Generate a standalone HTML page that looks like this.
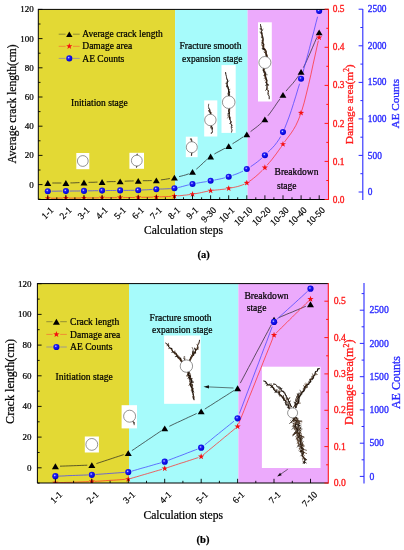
<!DOCTYPE html>
<html><head><meta charset="utf-8"><title>Crack evolution</title>
<style>html,body{margin:0;padding:0;background:#fff}svg{display:block}text{font-family:"Liberation Serif",serif}</style>
</head><body>
<svg width="404" height="550" viewBox="0 0 404 550">
<defs><radialGradient id="bg" cx="0.40" cy="0.38" r="0.64"><stop offset="0" stop-color="#f0f0ff"/><stop offset="0.12" stop-color="#8a8aff"/><stop offset="0.32" stop-color="#1c1cf6"/><stop offset="1" stop-color="#0000cc"/></radialGradient></defs>
<rect width="404" height="550" fill="#fff"/>
<clipPath id="ca"><rect x="38.3" y="9.4" width="290.2" height="190.1"/></clipPath>
<rect x="38.3" y="9.4" width="136.8" height="190.1" fill="#e3d934"/>
<rect x="175.1" y="9.4" width="72.5" height="190.1" fill="#a6fbfb"/>
<rect x="247.6" y="9.4" width="80.9" height="190.1" fill="#ecaafc"/>
<rect x="76.3" y="153.0" width="13.0" height="16.2" fill="#fff"/><circle cx="82.8" cy="161.0" r="5.4" fill="#fff" stroke="#666" stroke-width="0.7"/>
<rect x="129.4" y="152.8" width="14.6" height="16.0" fill="#fff"/><path d="M136.8,155.2L137.2,153.9" fill="none" stroke="#1c120b" stroke-width="0.60" stroke-linejoin="round" stroke-linecap="round"/><path d="M136.8,155.2L137.5,154.0" fill="none" stroke="#47301c" stroke-width="0.75" stroke-dasharray="2.4 1.1 1.1 1.3"/><path d="M136.8,166.0L136.5,167.4" fill="none" stroke="#1c120b" stroke-width="0.60" stroke-linejoin="round" stroke-linecap="round"/><path d="M136.9,166.0L136.5,167.4" fill="none" stroke="#47301c" stroke-width="0.89" stroke-dasharray="2.6 1.1 1.9 1.1"/><circle cx="136.8" cy="160.6" r="5.4" fill="#fff" stroke="#666" stroke-width="0.7"/>
<rect x="185.8" y="136.7" width="11.8" height="20.5" fill="#fff"/><path d="M191.8,141.7L191.7,139.9" fill="none" stroke="#1c120b" stroke-width="0.73" stroke-linejoin="round" stroke-linecap="round"/><path d="M191.7,139.9L190.9,138.4" fill="none" stroke="#1c120b" stroke-width="0.60" stroke-linejoin="round" stroke-linecap="round"/><path d="M191.7,141.7L191.1,140.1L191.0,138.4" fill="none" stroke="#3a2615" stroke-width="0.68" stroke-dasharray="1.6 1.1 1.8 1.3"/><path d="M191.7,139.9L189.9,139.2" stroke="#47301c" stroke-width="0.71"/><path d="M191.8,152.7L191.6,155.6" fill="none" stroke="#1c120b" stroke-width="0.65" stroke-linejoin="round" stroke-linecap="round"/><path d="M191.8,152.7L191.3,155.6" fill="none" stroke="#1e130b" stroke-width="0.73" stroke-dasharray="2.9 0.7 1.2 0.7"/><circle cx="191.8" cy="147.2" r="5.5" fill="#fff" stroke="#666" stroke-width="0.7"/>
<rect x="204.2" y="100.4" width="13.1" height="36.1" fill="#fff"/><path d="M210.6,114.3L210.4,112.7" fill="none" stroke="#1c120b" stroke-width="1.05" stroke-linejoin="round" stroke-linecap="round"/><path d="M210.4,112.7L209.9,111.4L209.7,109.8" fill="none" stroke="#1c120b" stroke-width="0.93" stroke-linejoin="round" stroke-linecap="round"/><path d="M209.7,109.8L208.9,108.3" fill="none" stroke="#1c120b" stroke-width="0.81" stroke-linejoin="round" stroke-linecap="round"/><path d="M208.9,108.3L208.4,106.3L208.7,104.2" fill="none" stroke="#1c120b" stroke-width="0.68" stroke-linejoin="round" stroke-linecap="round"/><path d="M210.6,114.3L211.5,112.7L210.1,111.3L210.0,109.7" fill="none" stroke="#47301c" stroke-width="0.80" stroke-dasharray="3.1 0.6 0.9 0.8"/><path d="M210.4,114.3L210.1,112.7L209.7,111.4L210.0,109.7" fill="none" stroke="#47301c" stroke-width="0.67" stroke-dasharray="3.5 1.0 1.5 0.8"/><path d="M209.9,111.4L208.1,110.6" stroke="#3a2615" stroke-width="0.85"/><path d="M210.4,112.7L208.8,111.8" stroke="#15100c" stroke-width="0.49"/><path d="M209.9,111.4L208.3,110.7" stroke="#3a2615" stroke-width="0.60"/><path d="M211.0,125.7L212.0,127.0L212.3,128.4" fill="none" stroke="#1c120b" stroke-width="1.00" stroke-linejoin="round" stroke-linecap="round"/><path d="M212.3,128.4L212.2,130.0L212.5,132.0L211.3,133.6" fill="none" stroke="#1c120b" stroke-width="0.75" stroke-linejoin="round" stroke-linecap="round"/><path d="M211.0,125.7L212.0,127.0L211.9,128.6L212.2,130.0" fill="none" stroke="#2b1c10" stroke-width="0.80" stroke-dasharray="2.1 0.6 1.8 1.2"/><path d="M211.0,125.7L210.6,127.4L211.2,128.8" fill="none" stroke="#47301c" stroke-width="0.83" stroke-dasharray="2.5 0.6 2.1 0.8"/><path d="M212.5,132.0L210.7,133.0" stroke="#2b1c10" stroke-width="0.54"/><path d="M212.0,127.0L211.1,128.5" stroke="#1e130b" stroke-width="0.56"/><circle cx="210.4" cy="120.0" r="5.7" fill="#fff" stroke="#666" stroke-width="0.7"/>
<rect x="221.5" y="65.1" width="14.2" height="67.8" fill="#fff"/><path d="M228.9,96.0L229.1,94.3L228.8,92.7L228.6,91.0" fill="none" stroke="#7a5a42" stroke-width="1.31" stroke-linejoin="round" stroke-linecap="round" opacity="0.6"/><path d="M228.9,96.0L229.1,94.3L228.8,92.7L228.6,91.0" fill="none" stroke="#1c120b" stroke-width="1.12" stroke-linejoin="round" stroke-linecap="round"/><path d="M228.6,91.0L228.4,89.2L228.2,87.3L227.1,85.6" fill="none" stroke="#1c120b" stroke-width="1.06" stroke-linejoin="round" stroke-linecap="round"/><path d="M227.1,85.6L227.1,83.7L227.6,81.8L227.4,79.9" fill="none" stroke="#1c120b" stroke-width="0.94" stroke-linejoin="round" stroke-linecap="round"/><path d="M227.4,79.9L226.6,78.2L226.4,76.2L225.9,74.3L225.5,72.4" fill="none" stroke="#1c120b" stroke-width="0.72" stroke-linejoin="round" stroke-linecap="round"/><path d="M228.6,95.9L228.2,94.2L229.6,92.7L228.9,90.9L228.7,89.1L227.2,87.5L227.4,85.5L227.0,83.7L226.9,81.9" fill="none" stroke="#1e130b" stroke-width="0.85" stroke-dasharray="3.1 1.1 1.4 1.2"/><path d="M229.0,96.0L229.6,94.4L229.5,92.7L229.1,90.9L228.3,89.2L228.1,87.3L227.6,85.5L226.8,83.8L227.1,81.8L227.1,80.0L226.7,78.1L226.3,76.2L225.6,74.4L225.7,72.4" fill="none" stroke="#1e130b" stroke-width="0.62" stroke-dasharray="2.4 1.1 0.9 1.2"/><path d="M228.8,92.7L230.2,92.1" stroke="#15100c" stroke-width="0.71"/><path d="M227.6,81.8L229.3,80.7" stroke="#15100c" stroke-width="0.53"/><path d="M228.6,91.0L230.1,88.9" stroke="#3a2615" stroke-width="0.61"/><path d="M228.2,87.3L226.0,86.3" stroke="#2b1c10" stroke-width="0.80"/><path d="M227.1,83.7L225.3,83.3" stroke="#47301c" stroke-width="0.59"/><path d="M229.1,94.3L227.2,93.1" stroke="#47301c" stroke-width="0.64"/><path d="M229.5,108.5L228.8,110.0L228.8,111.5L229.4,113.0" fill="none" stroke="#7a5a42" stroke-width="1.33" stroke-linejoin="round" stroke-linecap="round" opacity="0.6"/><path d="M229.5,108.5L228.8,110.0L228.8,111.5L229.4,113.0" fill="none" stroke="#1c120b" stroke-width="1.12" stroke-linejoin="round" stroke-linecap="round"/><path d="M229.4,113.0L229.1,114.5L229.2,116.0L229.5,117.5L229.7,119.0" fill="none" stroke="#1c120b" stroke-width="1.08" stroke-linejoin="round" stroke-linecap="round"/><path d="M229.7,119.0L230.4,120.4L231.2,121.8L230.6,123.5L231.6,125.0" fill="none" stroke="#1c120b" stroke-width="0.98" stroke-linejoin="round" stroke-linecap="round"/><path d="M231.6,125.0L231.3,126.7L231.4,128.4L232.1,130.0L231.5,132.2" fill="none" stroke="#1c120b" stroke-width="0.79" stroke-linejoin="round" stroke-linecap="round"/><path d="M229.5,108.5L229.5,110.0L229.3,111.5L229.5,113.0L229.6,114.5L229.3,116.0L230.2,117.3L230.0,118.9L230.3,120.4L230.5,121.9L231.6,123.4" fill="none" stroke="#47301c" stroke-width="0.71" stroke-dasharray="1.9 0.8 1.1 0.4"/><path d="M229.8,108.5L229.6,110.0L229.8,111.5L229.2,113.0L229.6,114.5L229.4,116.0L230.7,117.2L230.2,118.9" fill="none" stroke="#3a2615" stroke-width="0.69" stroke-dasharray="2.3 0.9 2.3 1.3"/><path d="M231.6,125.0L233.0,126.0" stroke="#5a3d26" stroke-width="0.50"/><path d="M229.1,114.5L227.1,116.1" stroke="#3a2615" stroke-width="0.55"/><path d="M231.3,126.7L232.8,127.5" stroke="#15100c" stroke-width="0.62"/><path d="M229.2,116.0L227.4,118.3" stroke="#47301c" stroke-width="0.77"/><path d="M229.4,113.0L227.3,114.1" stroke="#15100c" stroke-width="0.81"/><path d="M231.2,121.8L229.5,123.9" stroke="#1e130b" stroke-width="0.75"/><circle cx="228.7" cy="102.2" r="6.3" fill="#fff" stroke="#666" stroke-width="0.7"/>
<rect x="258.0" y="22.3" width="13.8" height="79.2" fill="#fff"/><path d="M267.0,57.0L266.4,55.1L266.0,53.2L265.9,51.1L264.7,49.5" fill="none" stroke="#7a5a42" stroke-width="1.77" stroke-linejoin="round" stroke-linecap="round" opacity="0.6"/><path d="M267.0,57.0L266.4,55.1L266.0,53.2L265.9,51.1L264.7,49.5" fill="none" stroke="#1c120b" stroke-width="1.25" stroke-linejoin="round" stroke-linecap="round"/><path d="M264.7,49.5L263.3,48.1L263.1,46.1L263.6,44.3L262.4,42.7L262.9,40.9" fill="none" stroke="#7a5a42" stroke-width="1.49" stroke-linejoin="round" stroke-linecap="round" opacity="0.6"/><path d="M264.7,49.5L263.3,48.1L263.1,46.1L263.6,44.3L262.4,42.7L262.9,40.9" fill="none" stroke="#1c120b" stroke-width="1.17" stroke-linejoin="round" stroke-linecap="round"/><path d="M262.9,40.9L263.2,39.1L262.9,37.4L262.4,35.7L261.7,34.0L261.3,32.3" fill="none" stroke="#1c120b" stroke-width="1.08" stroke-linejoin="round" stroke-linecap="round"/><path d="M261.3,32.3L261.9,30.5L261.1,29.1L261.1,27.5L260.7,26.0L260.5,24.5" fill="none" stroke="#1c120b" stroke-width="0.86" stroke-linejoin="round" stroke-linecap="round"/><path d="M266.6,57.1L265.7,55.3L265.4,53.4L264.2,51.7L264.7,49.6L263.4,48.0L263.2,46.1L261.9,44.5L261.8,42.8L261.7,41.0L262.6,39.2L261.8,37.5L262.3,35.7L262.0,34.0L261.5,32.3L261.2,30.6L261.2,29.1L260.7,27.6" fill="none" stroke="#3a2615" stroke-width="0.55" stroke-dasharray="2.5 0.5 1.5 0.4"/><path d="M266.9,57.0L266.5,55.1L266.0,53.2L266.1,51.1L264.8,49.5L264.0,47.8L263.6,46.0L262.8,44.4L263.4,42.6L262.5,41.0L262.8,39.2L262.3,37.5L262.1,35.8L262.4,34.0L262.1,32.2L261.9,30.5L261.6,29.0L261.4,27.4L260.7,26.0" fill="none" stroke="#2b1c10" stroke-width="0.59" stroke-dasharray="2.8 0.8 2.2 1.1"/><path d="M267.3,56.9L267.4,54.8L266.0,53.2L265.5,51.3L265.5,49.2L263.8,47.9L264.1,45.8L263.8,44.3L262.6,42.7L262.6,40.9L263.0,39.2L262.3,37.5L262.0,35.8L262.7,34.0" fill="none" stroke="#5a3d26" stroke-width="0.70" stroke-dasharray="2.6 0.7 2.2 0.8"/><path d="M262.9,37.4L260.9,37.0" stroke="#15100c" stroke-width="0.70"/><path d="M261.1,29.1L259.6,28.8" stroke="#2b1c10" stroke-width="0.85"/><path d="M264.7,49.5L262.5,49.7" stroke="#1e130b" stroke-width="0.58"/><path d="M261.9,30.5L263.4,29.1" stroke="#1e130b" stroke-width="0.70"/><path d="M266.0,53.2L263.9,52.2" stroke="#47301c" stroke-width="0.82"/><path d="M263.1,46.1L261.1,44.8" stroke="#5a3d26" stroke-width="0.80"/><path d="M261.7,34.0L259.9,32.7" stroke="#3a2615" stroke-width="0.56"/><path d="M264.7,49.5L262.1,48.5" stroke="#15100c" stroke-width="0.73"/><path d="M261.3,32.3L259.6,31.9" stroke="#3a2615" stroke-width="0.57"/><path d="M264.7,49.5L261.7,48.5" stroke="#1e130b" stroke-width="0.54"/><path d="M263.7,68.3L263.4,70.3L264.3,71.9L265.2,73.6L265.1,75.5" fill="none" stroke="#7a5a42" stroke-width="1.77" stroke-linejoin="round" stroke-linecap="round" opacity="0.6"/><path d="M263.7,68.3L263.4,70.3L264.3,71.9L265.2,73.6L265.1,75.5" fill="none" stroke="#1c120b" stroke-width="1.25" stroke-linejoin="round" stroke-linecap="round"/><path d="M265.1,75.5L265.7,77.2L266.2,78.9L266.9,80.6L266.2,82.5" fill="none" stroke="#7a5a42" stroke-width="1.51" stroke-linejoin="round" stroke-linecap="round" opacity="0.6"/><path d="M265.1,75.5L265.7,77.2L266.2,78.9L266.9,80.6L266.2,82.5" fill="none" stroke="#1c120b" stroke-width="1.17" stroke-linejoin="round" stroke-linecap="round"/><path d="M266.2,82.5L267.0,84.1L267.0,85.9L266.9,87.6L266.7,89.4" fill="none" stroke="#1c120b" stroke-width="1.10" stroke-linejoin="round" stroke-linecap="round"/><path d="M266.7,89.4L268.6,90.9L268.0,92.8L268.1,94.6L269.2,96.1L269.2,98.8" fill="none" stroke="#1c120b" stroke-width="0.96" stroke-linejoin="round" stroke-linecap="round"/><path d="M264.0,68.2L264.7,69.9L264.9,71.8L265.7,73.5L265.9,75.3L265.4,77.2L266.3,78.9L266.8,80.6L266.6,82.5L267.2,84.1L266.8,85.9" fill="none" stroke="#15100c" stroke-width="0.52" stroke-dasharray="2.3 1.2 2.3 1.0"/><path d="M263.5,68.3L263.4,70.3L263.7,72.0L264.5,73.7L265.1,75.5L265.0,77.3L265.6,79.1L266.4,80.7L266.3,82.5" fill="none" stroke="#2b1c10" stroke-width="0.67" stroke-dasharray="2.7 1.0 1.3 1.3"/><path d="M263.5,68.3L264.5,70.0L264.6,71.8L264.4,73.8L265.1,75.5L265.9,77.1L265.6,79.0L266.3,80.7L267.0,82.4L267.7,84.1L267.2,85.9L267.5,87.6L267.9,89.3L268.3,90.9L268.1,92.8L268.9,94.4" fill="none" stroke="#5a3d26" stroke-width="0.71" stroke-dasharray="2.7 0.9 2.0 0.8"/><path d="M265.7,77.2L263.8,78.5" stroke="#3a2615" stroke-width="0.76"/><path d="M266.7,89.4L265.3,90.7" stroke="#15100c" stroke-width="0.53"/><path d="M267.0,84.1L268.6,85.6" stroke="#2b1c10" stroke-width="0.80"/><path d="M264.3,71.9L266.2,72.1" stroke="#1e130b" stroke-width="0.49"/><path d="M267.0,84.1L269.1,84.9" stroke="#2b1c10" stroke-width="0.70"/><path d="M266.7,89.4L265.1,90.5" stroke="#5a3d26" stroke-width="0.50"/><path d="M265.2,73.6L267.6,74.8" stroke="#2b1c10" stroke-width="0.63"/><path d="M267.0,84.1L265.0,85.8" stroke="#15100c" stroke-width="0.58"/><path d="M266.2,78.9L264.5,80.7" stroke="#3a2615" stroke-width="0.48"/><path d="M265.2,73.6L263.5,75.7" stroke="#3a2615" stroke-width="0.78"/><circle cx="264.9" cy="62.5" r="6.0" fill="#fff" stroke="#666" stroke-width="0.7"/>
<g clip-path="url(#ca)">
<path d="M52.3,183.0L54.6,183.0L56.8,183.0L59.1,183.0L61.4,183.0M70.4,182.9L72.7,182.9L74.9,182.8L77.2,182.7L79.5,182.6M88.5,182.4L90.8,182.3L93.0,182.3L95.3,182.2L97.5,182.1M106.6,181.8L108.9,181.7L111.1,181.6L113.4,181.6L115.6,181.5M124.7,181.2L126.9,181.1L129.2,181.0L131.5,181.0L133.7,180.9M142.8,180.7L145.0,180.7L147.3,180.7L149.6,180.6L151.8,180.6M160.9,179.9L163.1,179.6L165.4,179.3L167.6,178.9L169.9,178.5M179.0,176.6L181.2,176.1L183.5,175.5L185.7,174.9L188.0,174.1L188.8,173.8M196.3,169.2L198.5,167.3L200.8,165.2L203.1,163.1L205.3,160.9L206.8,159.5M214.4,154.0L216.6,152.7L218.9,151.5L221.2,150.3L223.4,149.1L224.9,148.3M232.5,143.8L234.7,142.4L237.0,141.0L239.3,139.5L241.5,138.0L243.0,137.0M250.6,131.6L252.8,129.9L255.1,128.2L257.3,126.5L259.6,124.5L261.9,122.5M267.9,115.8L270.2,112.9L272.4,109.8L274.7,106.5L276.9,103.2L279.2,100.0L280.0,98.9M286.0,91.1L288.2,88.5L290.5,85.9L292.8,83.4L295.0,80.6L297.3,77.6L298.8,75.5M303.3,67.7L305.6,63.1L307.8,58.2L310.1,53.1L312.4,47.8L314.6,42.6L316.9,37.4" fill="none" stroke="#222" stroke-width="0.7"/>
<path d="M50.8,198.2L53.1,198.2L55.3,198.2L57.6,198.1L59.9,198.1L62.1,198.1L62.9,198.1M68.9,198.1L71.2,198.1L73.4,198.1L75.7,198.1L77.9,198.0L80.2,198.0L81.0,198.0M87.0,198.0L89.3,197.9L91.5,197.9L93.8,197.9L96.0,197.9L98.3,197.8L99.1,197.8M105.1,197.8L107.3,197.7L109.6,197.7L111.9,197.7L114.1,197.7L116.4,197.6L117.1,197.6M123.2,197.6L125.4,197.5L127.7,197.5L130.0,197.5L132.2,197.5L134.5,197.5L135.2,197.4M141.3,197.4L143.5,197.3L145.8,197.3L148.0,197.2L150.3,197.2L152.6,197.1L153.3,197.1M159.4,196.9L161.6,196.8L163.9,196.7L166.1,196.6L168.4,196.5L170.7,196.4L171.4,196.3M177.4,195.9L179.7,195.7L182.0,195.5L184.2,195.2L186.5,195.0L188.8,194.7L190.3,194.5M194.8,193.8L197.0,193.4L199.3,193.0L201.6,192.5L203.8,192.0L206.1,191.5L208.3,191.1M212.9,190.4L215.1,190.1L217.4,189.9L219.7,189.7L221.9,189.4L224.2,189.2L226.4,188.8M231.0,187.9L233.2,187.5L235.5,187.0L237.7,186.5L240.0,185.8L242.3,185.0L244.5,184.1M249.1,181.5L251.3,180.0L253.6,178.2L255.8,176.4L258.1,174.4L260.4,172.2L262.6,170.0M267.1,165.1L269.4,162.5L271.7,159.8L273.9,156.9L276.2,153.9L278.4,150.8L280.7,147.6L281.5,146.5M284.5,142.0L286.7,139.0L289.0,136.0L291.3,132.9L293.5,129.5L295.8,125.5L298.0,120.8L300.3,115.1M301.8,110.6L304.1,102.9L306.3,94.1L308.6,84.6L310.9,74.6L313.1,64.3L315.4,54.0L317.6,43.9L318.4,40.7" fill="none" stroke="#ff3030" stroke-width="0.75"/>
<path d="M51.6,191.2L53.8,191.2L56.1,191.2L58.4,191.1L60.6,191.1L62.1,191.1M69.7,191.1L71.9,191.0L74.2,191.0L76.4,191.0L78.7,191.0L80.2,190.9M87.7,190.8L90.0,190.8L92.3,190.8L94.5,190.7L96.8,190.7L98.3,190.7M105.8,190.6L108.1,190.5L110.4,190.5L112.6,190.5L114.9,190.5L116.4,190.4M123.9,190.4L126.2,190.4L128.5,190.4L130.7,190.3L133.0,190.3L134.5,190.3M142.0,190.0L144.3,189.9L146.5,189.8L148.8,189.7L151.1,189.5L152.6,189.4M160.1,189.0L162.4,189.0L164.6,188.9L166.9,188.8L169.2,188.7L170.7,188.6M178.2,187.5L180.5,187.0L182.7,186.4L185.0,185.8L187.2,185.2L188.8,184.9M196.3,183.3L198.5,182.9L200.8,182.5L203.1,182.1L205.3,181.8L206.8,181.5M214.4,180.1L216.6,179.6L218.9,179.2L221.2,178.7L223.4,178.2L224.9,177.8M232.5,175.4L234.7,174.6L237.0,173.8L239.3,172.8L241.5,171.8L243.0,171.1M250.6,166.7L252.8,165.2L255.1,163.6L257.3,161.9L259.6,160.1L261.9,158.1M267.9,152.2L270.2,150.1L272.4,147.8L274.7,145.3L276.9,142.4L279.2,139.1L280.7,136.5M284.5,128.8L286.7,123.2L289.0,117.1L291.3,110.5L293.5,103.5L295.8,96.2L298.0,88.8L299.6,83.7M302.6,73.6L304.8,65.5L307.1,57.2L309.4,48.6L311.6,39.9L313.9,31.2L316.1,22.4L317.6,16.7" fill="none" stroke="#4646ff" stroke-width="0.75"/>
<polygon points="47.80,180.10 44.35,185.90 51.25,185.90" fill="#000"/>
<polygon points="65.89,180.10 62.44,185.90 69.34,185.90" fill="#000"/>
<polygon points="83.98,179.60 80.53,185.40 87.43,185.40" fill="#000"/>
<polygon points="102.07,179.10 98.62,184.90 105.52,184.90" fill="#000"/>
<polygon points="120.16,178.40 116.71,184.20 123.61,184.20" fill="#000"/>
<polygon points="138.25,177.90 134.80,183.70 141.70,183.70" fill="#000"/>
<polygon points="156.34,177.40 152.89,183.20 159.79,183.20" fill="#000"/>
<polygon points="174.43,174.70 170.98,180.50 177.88,180.50" fill="#000"/>
<polygon points="192.52,169.00 189.07,174.80 195.97,174.80" fill="#000"/>
<polygon points="210.61,153.60 207.16,159.40 214.06,159.40" fill="#000"/>
<polygon points="228.70,143.20 225.25,149.00 232.15,149.00" fill="#000"/>
<polygon points="246.79,131.40 243.34,137.20 250.24,137.20" fill="#000"/>
<polygon points="264.88,116.50 261.43,122.30 268.33,122.30" fill="#000"/>
<polygon points="282.97,91.90 279.52,97.70 286.42,97.70" fill="#000"/>
<polygon points="301.06,68.90 297.61,74.70 304.51,74.70" fill="#000"/>
<polygon points="319.15,29.40 315.70,35.20 322.60,35.20" fill="#000"/>
<polygon points="47.80,194.95 48.56,197.15 50.89,197.20 49.04,198.60 49.71,200.83 47.80,199.50 45.89,200.83 46.56,198.60 44.71,197.20 47.04,197.15" fill="#f50f0f"/>
<polygon points="65.89,194.85 66.65,197.05 68.98,197.10 67.13,198.50 67.80,200.73 65.89,199.40 63.98,200.73 64.65,198.50 62.80,197.10 65.13,197.05" fill="#f50f0f"/>
<polygon points="83.98,194.75 84.74,196.95 87.07,197.00 85.22,198.40 85.89,200.63 83.98,199.30 82.07,200.63 82.74,198.40 80.89,197.00 83.22,196.95" fill="#f50f0f"/>
<polygon points="102.07,194.55 102.83,196.75 105.16,196.80 103.31,198.20 103.98,200.43 102.07,199.10 100.16,200.43 100.83,198.20 98.98,196.80 101.31,196.75" fill="#f50f0f"/>
<polygon points="120.16,194.35 120.92,196.55 123.25,196.60 121.40,198.00 122.07,200.23 120.16,198.90 118.25,200.23 118.92,198.00 117.07,196.60 119.40,196.55" fill="#f50f0f"/>
<polygon points="138.25,194.15 139.01,196.35 141.34,196.40 139.49,197.80 140.16,200.03 138.25,198.70 136.34,200.03 137.01,197.80 135.16,196.40 137.49,196.35" fill="#f50f0f"/>
<polygon points="156.34,193.75 157.10,195.95 159.43,196.00 157.58,197.40 158.25,199.63 156.34,198.30 154.43,199.63 155.10,197.40 153.25,196.00 155.58,195.95" fill="#f50f0f"/>
<polygon points="174.43,192.85 175.19,195.05 177.52,195.10 175.67,196.50 176.34,198.73 174.43,197.40 172.52,198.73 173.19,196.50 171.34,195.10 173.67,195.05" fill="#f50f0f"/>
<polygon points="192.52,190.95 193.28,193.15 195.61,193.20 193.76,194.60 194.43,196.83 192.52,195.50 190.61,196.83 191.28,194.60 189.43,193.20 191.76,193.15" fill="#f50f0f"/>
<polygon points="210.61,187.45 211.37,189.65 213.70,189.70 211.85,191.10 212.52,193.33 210.61,192.00 208.70,193.33 209.37,191.10 207.52,189.70 209.85,189.65" fill="#f50f0f"/>
<polygon points="228.70,185.15 229.46,187.35 231.79,187.40 229.94,188.80 230.61,191.03 228.70,189.70 226.79,191.03 227.46,188.80 225.61,187.40 227.94,187.35" fill="#f50f0f"/>
<polygon points="246.79,179.65 247.55,181.85 249.88,181.90 248.03,183.30 248.70,185.53 246.79,184.20 244.88,185.53 245.55,183.30 243.70,181.90 246.03,181.85" fill="#f50f0f"/>
<polygon points="264.88,164.35 265.64,166.55 267.97,166.60 266.12,168.00 266.79,170.23 264.88,168.90 262.97,170.23 263.64,168.00 261.79,166.60 264.12,166.55" fill="#f50f0f"/>
<polygon points="282.97,140.95 283.73,143.15 286.06,143.20 284.21,144.60 284.88,146.83 282.97,145.50 281.06,146.83 281.73,144.60 279.88,143.20 282.21,143.15" fill="#f50f0f"/>
<polygon points="301.06,109.65 301.82,111.85 304.15,111.90 302.30,113.30 302.97,115.53 301.06,114.20 299.15,115.53 299.82,113.30 297.97,111.90 300.30,111.85" fill="#f50f0f"/>
<polygon points="319.15,34.25 319.91,36.45 322.24,36.50 320.39,37.90 321.06,40.13 319.15,38.80 317.24,40.13 317.91,37.90 316.06,36.50 318.39,36.45" fill="#f50f0f"/>
<circle cx="47.80" cy="191.20" r="3.05" fill="url(#bg)"/>
<circle cx="65.89" cy="191.10" r="3.05" fill="url(#bg)"/>
<circle cx="83.98" cy="190.90" r="3.05" fill="url(#bg)"/>
<circle cx="102.07" cy="190.60" r="3.05" fill="url(#bg)"/>
<circle cx="120.16" cy="190.40" r="3.05" fill="url(#bg)"/>
<circle cx="138.25" cy="190.20" r="3.05" fill="url(#bg)"/>
<circle cx="156.34" cy="189.20" r="3.05" fill="url(#bg)"/>
<circle cx="174.43" cy="188.20" r="3.05" fill="url(#bg)"/>
<circle cx="192.52" cy="184.00" r="3.05" fill="url(#bg)"/>
<circle cx="210.61" cy="180.80" r="3.05" fill="url(#bg)"/>
<circle cx="228.70" cy="176.70" r="3.05" fill="url(#bg)"/>
<circle cx="246.79" cy="169.00" r="3.05" fill="url(#bg)"/>
<circle cx="264.88" cy="155.20" r="3.05" fill="url(#bg)"/>
<circle cx="282.97" cy="132.10" r="3.05" fill="url(#bg)"/>
<circle cx="301.06" cy="78.70" r="3.05" fill="url(#bg)"/>
<circle cx="319.15" cy="11.00" r="3.05" fill="url(#bg)"/>
</g>
<path d="M38.3,8.9 V199.5 H328.5 M38.3,9.4 H328.5" fill="none" stroke="#000" stroke-width="1"/>
<line x1="328.5" y1="8.9" x2="328.5" y2="200.0" stroke="#ff1a1a" stroke-width="1.1"/>
<line x1="362.8" y1="8.9" x2="362.8" y2="200.0" stroke="#2a2aff" stroke-width="1.1"/>
<text x="33.8" y="187.6" font-size="9" fill="#000" text-anchor="end" stroke="#000" stroke-width="0.22">0</text>
<text x="33.8" y="158.4" font-size="9" fill="#000" text-anchor="end" stroke="#000" stroke-width="0.22">20</text>
<text x="33.8" y="129.2" font-size="9" fill="#000" text-anchor="end" stroke="#000" stroke-width="0.22">40</text>
<text x="33.8" y="100.0" font-size="9" fill="#000" text-anchor="end" stroke="#000" stroke-width="0.22">60</text>
<text x="33.8" y="70.8" font-size="9" fill="#000" text-anchor="end" stroke="#000" stroke-width="0.22">80</text>
<text x="33.8" y="41.6" font-size="9" fill="#000" text-anchor="end" stroke="#000" stroke-width="0.22">100</text>
<text x="33.8" y="12.4" font-size="9" fill="#000" text-anchor="end" stroke="#000" stroke-width="0.22">120</text>
<path d="M38.3,199.2h2.2M38.3,184.6h4.2M38.3,170.0h2.2M38.3,155.4h4.2M38.3,140.8h2.2M38.3,126.2h4.2M38.3,111.6h2.2M38.3,97.0h4.2M38.3,82.4h2.2M38.3,67.8h4.2M38.3,53.2h2.2M38.3,38.6h4.2M38.3,24.0h2.2M38.3,9.4h4.2" stroke="#000" stroke-width="0.9" fill="none"/>
<text x="332.8" y="202.6" font-size="9.4" fill="#ff1a1a" text-anchor="start" stroke="#ff1a1a" stroke-width="0.32">0.0</text>
<text x="332.8" y="164.5" font-size="9.4" fill="#ff1a1a" text-anchor="start" stroke="#ff1a1a" stroke-width="0.32">0.1</text>
<text x="332.8" y="126.5" font-size="9.4" fill="#ff1a1a" text-anchor="start" stroke="#ff1a1a" stroke-width="0.32">0.2</text>
<text x="332.8" y="88.4" font-size="9.4" fill="#ff1a1a" text-anchor="start" stroke="#ff1a1a" stroke-width="0.32">0.3</text>
<text x="332.8" y="50.4" font-size="9.4" fill="#ff1a1a" text-anchor="start" stroke="#ff1a1a" stroke-width="0.32">0.4</text>
<text x="332.8" y="12.3" font-size="9.4" fill="#ff1a1a" text-anchor="start" stroke="#ff1a1a" stroke-width="0.32">0.5</text>
<path d="M328.5,199.5h-3.9M328.5,180.5h-2.2M328.5,161.4h-3.9M328.5,142.4h-2.2M328.5,123.4h-3.9M328.5,104.4h-2.2M328.5,85.4h-3.9M328.5,66.3h-2.2M328.5,47.3h-3.9M328.5,28.3h-2.2M328.5,9.2h-3.9" stroke="#ff1a1a" stroke-width="1" fill="none"/>
<text x="367.8" y="195.1" font-size="9.4" fill="#2a2aff" text-anchor="start" stroke="#2a2aff" stroke-width="0.32">0</text>
<text x="367.8" y="158.5" font-size="9.4" fill="#2a2aff" text-anchor="start" stroke="#2a2aff" stroke-width="0.32">500</text>
<text x="367.8" y="122.0" font-size="9.4" fill="#2a2aff" text-anchor="start" stroke="#2a2aff" stroke-width="0.32">1000</text>
<text x="367.8" y="85.4" font-size="9.4" fill="#2a2aff" text-anchor="start" stroke="#2a2aff" stroke-width="0.32">1500</text>
<text x="367.8" y="48.9" font-size="9.4" fill="#2a2aff" text-anchor="start" stroke="#2a2aff" stroke-width="0.32">2000</text>
<text x="367.8" y="12.3" font-size="9.4" fill="#2a2aff" text-anchor="start" stroke="#2a2aff" stroke-width="0.32">2500</text>
<path d="M362.8,192.0h-4.2M362.8,173.7h-2.4M362.8,155.4h-4.2M362.8,137.2h-2.4M362.8,118.9h-4.2M362.8,100.6h-2.4M362.8,82.4h-4.2M362.8,64.1h-2.4M362.8,45.8h-4.2M362.8,27.5h-2.4M362.8,9.2h-4.2" stroke="#2a2aff" stroke-width="1" fill="none"/>
<text transform="translate(54.1,210.8) rotate(-45)" font-size="9.4" fill="#000" text-anchor="end" stroke="#000" stroke-width="0.22">1-1</text>
<text transform="translate(72.2,210.8) rotate(-45)" font-size="9.4" fill="#000" text-anchor="end" stroke="#000" stroke-width="0.22">2-1</text>
<text transform="translate(90.3,210.8) rotate(-45)" font-size="9.4" fill="#000" text-anchor="end" stroke="#000" stroke-width="0.22">3-1</text>
<text transform="translate(108.4,210.8) rotate(-45)" font-size="9.4" fill="#000" text-anchor="end" stroke="#000" stroke-width="0.22">4-1</text>
<text transform="translate(126.5,210.8) rotate(-45)" font-size="9.4" fill="#000" text-anchor="end" stroke="#000" stroke-width="0.22">5-1</text>
<text transform="translate(144.6,210.8) rotate(-45)" font-size="9.4" fill="#000" text-anchor="end" stroke="#000" stroke-width="0.22">6-1</text>
<text transform="translate(162.6,210.8) rotate(-45)" font-size="9.4" fill="#000" text-anchor="end" stroke="#000" stroke-width="0.22">7-1</text>
<text transform="translate(180.7,210.8) rotate(-45)" font-size="9.4" fill="#000" text-anchor="end" stroke="#000" stroke-width="0.22">8-1</text>
<text transform="translate(198.8,210.8) rotate(-45)" font-size="9.4" fill="#000" text-anchor="end" stroke="#000" stroke-width="0.22">9-1</text>
<text transform="translate(216.9,210.8) rotate(-45)" font-size="9.4" fill="#000" text-anchor="end" stroke="#000" stroke-width="0.22">9-30</text>
<text transform="translate(235.0,210.8) rotate(-45)" font-size="9.4" fill="#000" text-anchor="end" stroke="#000" stroke-width="0.22">10-1</text>
<text transform="translate(253.1,210.8) rotate(-45)" font-size="9.4" fill="#000" text-anchor="end" stroke="#000" stroke-width="0.22">10-10</text>
<text transform="translate(271.2,210.8) rotate(-45)" font-size="9.4" fill="#000" text-anchor="end" stroke="#000" stroke-width="0.22">10-20</text>
<text transform="translate(289.3,210.8) rotate(-45)" font-size="9.4" fill="#000" text-anchor="end" stroke="#000" stroke-width="0.22">10-30</text>
<text transform="translate(307.4,210.8) rotate(-45)" font-size="9.4" fill="#000" text-anchor="end" stroke="#000" stroke-width="0.22">10-40</text>
<text transform="translate(325.5,210.8) rotate(-45)" font-size="9.4" fill="#000" text-anchor="end" stroke="#000" stroke-width="0.22">10-50</text>
<path d="M47.8,199.5v-4.2M56.8,199.5v-2.2M65.9,199.5v-4.2M74.9,199.5v-2.2M84.0,199.5v-4.2M93.0,199.5v-2.2M102.1,199.5v-4.2M111.1,199.5v-2.2M120.2,199.5v-4.2M129.2,199.5v-2.2M138.2,199.5v-4.2M147.3,199.5v-2.2M156.3,199.5v-4.2M165.4,199.5v-2.2M174.4,199.5v-4.2M183.5,199.5v-2.2M192.5,199.5v-4.2M201.6,199.5v-2.2M210.6,199.5v-4.2M219.7,199.5v-2.2M228.7,199.5v-4.2M237.7,199.5v-2.2M246.8,199.5v-4.2M255.8,199.5v-2.2M264.9,199.5v-4.2M273.9,199.5v-2.2M283.0,199.5v-4.2M292.0,199.5v-2.2M301.1,199.5v-4.2M310.1,199.5v-2.2M319.2,199.5v-4.2" stroke="#000" stroke-width="0.9" fill="none"/>
<path d="M58.7,34.2H65.6M73,34.2H79.7" stroke="#333" stroke-width="0.6" opacity="0.75"/>
<polygon points="69.30,31.40 66.10,37.00 72.50,37.00" fill="#000"/>
<text x="82.3" y="37.3" font-size="9.5" fill="#000" text-anchor="start" stroke="#000" stroke-width="0.22">Average crack length</text>
<path d="M58.7,46.3H65.6M73,46.3H79.7" stroke="#ff3030" stroke-width="0.6" opacity="0.75"/>
<polygon points="69.30,43.10 70.05,45.26 72.34,45.31 70.52,46.70 71.18,48.89 69.30,47.58 67.42,48.89 68.08,46.70 66.26,45.31 68.55,45.26" fill="#f50f0f"/>
<text x="82.3" y="49.4" font-size="9.5" fill="#000" text-anchor="start" stroke="#000" stroke-width="0.22">Damage area</text>
<path d="M58.7,58.4H65.6M73,58.4H79.7" stroke="#4a4aff" stroke-width="0.6" opacity="0.75"/>
<circle cx="69.30" cy="58.40" r="3.05" fill="url(#bg)"/>
<text x="82.3" y="61.5" font-size="9.5" fill="#000" text-anchor="start" stroke="#000" stroke-width="0.22">AE Counts</text>
<text x="71.0" y="106.0" font-size="9.5" fill="#000" text-anchor="start" stroke="#000" stroke-width="0.22">Initiation stage</text>
<text x="210.5" y="48.8" font-size="9.5" fill="#000" text-anchor="middle" stroke="#000" stroke-width="0.22">Fracture smooth</text>
<text x="212.3" y="62.3" font-size="9.5" fill="#000" text-anchor="middle" stroke="#000" stroke-width="0.22">expansion stage</text>
<text x="274.6" y="175.0" font-size="9.5" fill="#000" text-anchor="start" stroke="#000" stroke-width="0.22">Breakdown</text>
<text x="277.0" y="188.6" font-size="9.5" fill="#000" text-anchor="start" stroke="#000" stroke-width="0.22">stage</text>
<text transform="translate(16.3,104.0) rotate(-90)" font-size="11.5" fill="#000" text-anchor="middle" stroke="#000" stroke-width="0.22">Average crack length(cm)</text>
<text transform="translate(353.3,104.3) rotate(-90)" font-size="11.4" fill="#ff1a1a" text-anchor="middle" stroke="#ff1a1a" stroke-width="0.32">Damage area(m<tspan font-size="7.4" dy="-4.2">2</tspan><tspan dy="4.2">)</tspan></text>
<text transform="translate(398.6,103.7) rotate(-90)" font-size="11.2" fill="#2a2aff" text-anchor="middle" stroke="#2a2aff" stroke-width="0.32">AE Counts</text>
<text x="183.5" y="233.6" font-size="11.5" fill="#000" text-anchor="middle" stroke="#000" stroke-width="0.22">Calculation steps</text>
<text x="203.7" y="258.0" font-size="10.5" fill="#000" text-anchor="middle" font-weight="bold" stroke="#000" stroke-width="0.22">(a)</text>
<clipPath id="cb"><rect x="37.4" y="283.6" width="290.9" height="199.4"/></clipPath>
<rect x="37.4" y="283.6" width="91.6" height="199.4" fill="#e3d934"/>
<rect x="129.0" y="283.6" width="109.4" height="199.4" fill="#a6fbfb"/>
<rect x="238.4" y="283.6" width="89.9" height="199.4" fill="#ecaafc"/>
<rect x="84.8" y="436.5" width="14.1" height="16.0" fill="#fff"/><circle cx="91.8" cy="444.4" r="5.9" fill="#fff" stroke="#666" stroke-width="0.7"/>
<rect x="121.6" y="405.2" width="15.4" height="23.2" fill="#fff"/><path d="M132.6,421.2L134.2,422.5" fill="none" stroke="#1c120b" stroke-width="0.82" stroke-linejoin="round" stroke-linecap="round"/><path d="M134.2,422.5L134.2,424.8" fill="none" stroke="#1c120b" stroke-width="0.68" stroke-linejoin="round" stroke-linecap="round"/><path d="M132.5,421.2L133.6,422.8L134.1,424.8" fill="none" stroke="#3a2615" stroke-width="0.76" stroke-dasharray="2.9 1.0 1.3 0.6"/><circle cx="129.6" cy="416.2" r="6.0" fill="#fff" stroke="#666" stroke-width="0.7"/>
<rect x="164.1" y="335.5" width="36.6" height="68.3" fill="#fff"/><path d="M182.0,361.5L180.7,360.4L180.4,358.4L178.4,357.7" fill="none" stroke="#7a5a42" stroke-width="2.05" stroke-linejoin="round" stroke-linecap="round" opacity="0.6"/><path d="M182.0,361.5L180.7,360.4L180.4,358.4L178.4,357.7" fill="none" stroke="#1c120b" stroke-width="1.32" stroke-linejoin="round" stroke-linecap="round"/><path d="M178.4,357.7L177.5,356.3L176.7,355.0L176.0,353.5L174.6,352.7" fill="none" stroke="#7a5a42" stroke-width="1.70" stroke-linejoin="round" stroke-linecap="round" opacity="0.6"/><path d="M178.4,357.7L177.5,356.3L176.7,355.0L176.0,353.5L174.6,352.7" fill="none" stroke="#1c120b" stroke-width="1.23" stroke-linejoin="round" stroke-linecap="round"/><path d="M174.6,352.7L173.0,352.1L172.2,350.5L171.8,348.6L169.9,348.0" fill="none" stroke="#1c120b" stroke-width="1.11" stroke-linejoin="round" stroke-linecap="round"/><path d="M169.9,348.0L168.5,347.0L168.4,344.9L167.0,344.0L165.6,343.1" fill="none" stroke="#1c120b" stroke-width="0.90" stroke-linejoin="round" stroke-linecap="round"/><path d="M181.8,361.6L181.3,359.8L179.2,359.3L178.9,357.3L177.7,356.1L176.8,354.8L175.7,353.8L174.3,353.0L173.2,351.9L171.9,350.8L171.2,349.2" fill="none" stroke="#5a3d26" stroke-width="0.84" stroke-dasharray="2.5 0.8 1.8 1.5"/><path d="M182.0,361.5L180.5,360.5L179.7,358.9L178.4,357.8L177.3,356.5L176.0,355.6L175.2,354.3L173.8,353.4L173.4,351.7L171.8,350.9L171.3,349.1L169.9,348.1L169.0,346.6L167.7,345.6L167.0,344.1" fill="none" stroke="#47301c" stroke-width="0.70" stroke-dasharray="2.3 0.7 2.4 1.1"/><path d="M182.0,361.5L181.5,359.7L179.7,359.0L179.4,356.9L178.5,355.4L176.7,354.9L175.3,354.2L174.6,352.7L173.2,351.9L172.4,350.3" fill="none" stroke="#3a2615" stroke-width="0.58" stroke-dasharray="2.0 0.5 1.9 1.2"/><path d="M174.6,352.7L174.8,350.6" stroke="#5a3d26" stroke-width="0.50"/><path d="M169.9,348.0L168.0,348.8" stroke="#47301c" stroke-width="0.46"/><path d="M173.0,352.1L171.2,352.6" stroke="#15100c" stroke-width="0.54"/><path d="M168.5,347.0L169.3,345.4" stroke="#3a2615" stroke-width="0.61"/><path d="M168.4,344.9L168.6,342.9" stroke="#3a2615" stroke-width="0.64"/><path d="M174.6,352.7L174.9,350.7" stroke="#2b1c10" stroke-width="0.61"/><path d="M177.5,356.3L174.9,356.7" stroke="#15100c" stroke-width="0.76"/><path d="M168.4,344.9L166.7,345.7" stroke="#47301c" stroke-width="0.81"/><path d="M189.9,360.3L190.6,358.9L191.0,357.3L192.0,356.0" fill="none" stroke="#7a5a42" stroke-width="1.85" stroke-linejoin="round" stroke-linecap="round" opacity="0.6"/><path d="M189.9,360.3L190.6,358.9L191.0,357.3L192.0,356.0" fill="none" stroke="#1c120b" stroke-width="1.27" stroke-linejoin="round" stroke-linecap="round"/><path d="M192.0,356.0L193.5,355.1L193.8,353.2L195.4,352.1" fill="none" stroke="#7a5a42" stroke-width="1.55" stroke-linejoin="round" stroke-linecap="round" opacity="0.6"/><path d="M192.0,356.0L193.5,355.1L193.8,353.2L195.4,352.1" fill="none" stroke="#1c120b" stroke-width="1.18" stroke-linejoin="round" stroke-linecap="round"/><path d="M195.4,352.1L195.5,350.1L197.4,349.0L197.9,347.2" fill="none" stroke="#1c120b" stroke-width="1.10" stroke-linejoin="round" stroke-linecap="round"/><path d="M197.9,347.2L197.4,345.1L198.9,343.7L199.2,342.0L199.5,340.2" fill="none" stroke="#1c120b" stroke-width="0.90" stroke-linejoin="round" stroke-linecap="round"/><path d="M189.7,360.2L190.8,359.0L191.0,357.3L191.8,355.9L193.4,355.0L193.6,353.0L194.7,351.6L196.0,350.3L196.9,348.8L197.4,347.0L198.4,345.4" fill="none" stroke="#47301c" stroke-width="0.58" stroke-dasharray="1.5 0.6 1.1 1.2"/><path d="M189.9,360.3L190.2,358.7L191.9,357.8L192.0,356.0L192.7,354.6L193.6,353.0L194.9,351.7L196.1,350.4" fill="none" stroke="#2b1c10" stroke-width="0.62" stroke-dasharray="2.8 0.4 1.4 1.2"/><path d="M189.8,360.3L190.6,358.8L191.3,357.4L191.9,356.0L192.9,354.7L193.2,352.7L194.8,351.6L196.2,350.4L196.6,348.7L197.5,347.0L197.9,345.3L198.3,343.5L198.3,341.7" fill="none" stroke="#5a3d26" stroke-width="0.76" stroke-dasharray="3.0 0.7 2.4 1.0"/><path d="M197.4,349.0L199.0,349.0" stroke="#5a3d26" stroke-width="0.70"/><path d="M192.0,356.0L190.7,354.1" stroke="#5a3d26" stroke-width="0.49"/><path d="M193.5,355.1L192.3,353.2" stroke="#1e130b" stroke-width="0.59"/><path d="M195.5,350.1L194.6,347.7" stroke="#47301c" stroke-width="0.64"/><path d="M195.5,350.1L194.5,348.2" stroke="#2b1c10" stroke-width="0.71"/><path d="M197.4,345.1L196.2,343.9" stroke="#47301c" stroke-width="0.49"/><path d="M195.5,350.1L194.7,347.8" stroke="#15100c" stroke-width="0.74"/><path d="M193.8,353.2L196.1,353.3" stroke="#2b1c10" stroke-width="0.68"/><path d="M192.9,354.7L192.4,352.9L193.1,350.9" fill="none" stroke="#1c120b" stroke-width="0.73" stroke-linejoin="round" stroke-linecap="round"/><path d="M193.1,350.9L193.0,349.2L192.2,347.5" fill="none" stroke="#1c120b" stroke-width="0.60" stroke-linejoin="round" stroke-linecap="round"/><path d="M193.1,354.7L192.9,352.8L192.3,351.0" fill="none" stroke="#3a2615" stroke-width="0.61" stroke-dasharray="2.0 0.9 2.0 0.8"/><path d="M192.4,352.9L194.1,351.0" stroke="#15100c" stroke-width="0.67"/><path d="M184.8,360.2L184.0,358.4" fill="none" stroke="#1c120b" stroke-width="0.65" stroke-linejoin="round" stroke-linecap="round"/><path d="M184.0,358.4L184.2,356.5" fill="none" stroke="#1c120b" stroke-width="0.60" stroke-linejoin="round" stroke-linecap="round"/><path d="M184.8,360.2L184.9,358.3L184.7,356.4" fill="none" stroke="#3a2615" stroke-width="0.60" stroke-dasharray="2.7 0.5 2.2 0.7"/><path d="M188.3,371.9L188.5,373.5L188.3,375.1L190.0,376.3L189.6,378.0" fill="none" stroke="#7a5a42" stroke-width="2.39" stroke-linejoin="round" stroke-linecap="round" opacity="0.6"/><path d="M188.3,371.9L188.5,373.5L188.3,375.1L190.0,376.3L189.6,378.0" fill="none" stroke="#1c120b" stroke-width="1.42" stroke-linejoin="round" stroke-linecap="round"/><path d="M189.6,378.0L190.9,379.3L191.3,380.7L191.4,382.2L190.2,384.1" fill="none" stroke="#7a5a42" stroke-width="1.96" stroke-linejoin="round" stroke-linecap="round" opacity="0.6"/><path d="M189.6,378.0L190.9,379.3L191.3,380.7L191.4,382.2L190.2,384.1" fill="none" stroke="#1c120b" stroke-width="1.30" stroke-linejoin="round" stroke-linecap="round"/><path d="M190.2,384.1L190.6,385.5L191.5,387.2L192.6,388.8L192.2,390.8" fill="none" stroke="#7a5a42" stroke-width="1.54" stroke-linejoin="round" stroke-linecap="round" opacity="0.6"/><path d="M190.2,384.1L190.6,385.5L191.5,387.2L192.6,388.8L192.2,390.8" fill="none" stroke="#1c120b" stroke-width="1.18" stroke-linejoin="round" stroke-linecap="round"/><path d="M192.2,390.8L192.4,392.6L193.4,394.3L193.3,396.2L193.2,398.1L194.1,399.8" fill="none" stroke="#1c120b" stroke-width="1.05" stroke-linejoin="round" stroke-linecap="round"/><path d="M188.8,371.8L189.8,373.2L190.6,374.6L190.5,376.2L190.5,377.8L191.5,379.1L191.2,380.7L191.9,382.1L191.8,383.7L192.4,385.1L192.3,387.0L193.4,388.7L192.9,390.6L193.8,392.3L193.2,394.3L193.8,396.1L194.2,397.9L194.5,399.7" fill="none" stroke="#47301c" stroke-width="0.84" stroke-dasharray="3.3 0.9 1.5 0.7"/><path d="M188.1,371.9L188.0,373.6L188.1,375.1L188.0,376.8L189.0,378.2L189.4,379.6L189.9,381.0L189.6,382.7L190.9,383.9L191.6,385.3" fill="none" stroke="#47301c" stroke-width="0.78" stroke-dasharray="3.2 0.6 2.3 1.5"/><path d="M188.4,371.9L188.9,373.4L189.1,374.9L189.7,376.4L190.4,377.8L189.4,379.6L189.7,381.1L190.5,382.5L190.6,384.0L191.6,385.3L191.4,387.2L192.5,388.8L192.2,390.8L192.8,392.5L192.7,394.4L193.9,396.1L193.5,398.0" fill="none" stroke="#1e130b" stroke-width="0.63" stroke-dasharray="2.7 0.8 1.3 1.2"/><path d="M188.4,371.9L189.0,373.3L190.1,374.7L190.5,376.2L190.4,377.8L191.6,379.1L191.9,380.6L190.9,382.4L192.1,383.6L192.1,385.2L191.9,387.1L192.1,388.9L193.1,390.6L193.7,392.4" fill="none" stroke="#15100c" stroke-width="0.58" stroke-dasharray="3.3 0.4 1.9 1.2"/><path d="M190.2,384.1L193.1,385.3" stroke="#3a2615" stroke-width="0.74"/><path d="M192.6,388.8L190.8,390.1" stroke="#5a3d26" stroke-width="0.83"/><path d="M193.3,396.2L192.1,397.1" stroke="#5a3d26" stroke-width="0.73"/><path d="M190.6,385.5L193.1,386.1" stroke="#3a2615" stroke-width="0.60"/><path d="M189.6,378.0L192.8,378.5" stroke="#2b1c10" stroke-width="0.56"/><path d="M190.0,376.3L187.7,378.7" stroke="#15100c" stroke-width="0.81"/><path d="M188.5,373.5L186.3,375.8" stroke="#2b1c10" stroke-width="0.56"/><path d="M191.4,382.2L193.7,382.4" stroke="#2b1c10" stroke-width="0.85"/><path d="M188.3,375.1L186.1,376.5" stroke="#47301c" stroke-width="0.47"/><path d="M190.0,376.3L188.1,377.6" stroke="#3a2615" stroke-width="0.65"/><path d="M191.3,380.7L193.5,381.7" stroke="#15100c" stroke-width="0.76"/><path d="M190.2,384.1L188.4,386.0" stroke="#47301c" stroke-width="0.55"/><circle cx="186.4" cy="366.1" r="6.2" fill="#fff" stroke="#666" stroke-width="0.7"/>
<rect x="261.9" y="366.7" width="58.6" height="101.3" fill="#fff"/><path d="M289.5,408.5L288.1,407.3L288.6,405.1L286.1,404.6L285.9,402.7L285.7,400.8" fill="none" stroke="#1c120b" stroke-width="1.20" stroke-linejoin="round" stroke-linecap="round"/><path d="M285.7,400.8L283.9,399.9L283.3,398.4L282.3,397.2L281.5,395.7L280.0,394.9L279.3,393.4" fill="none" stroke="#1c120b" stroke-width="1.20" stroke-linejoin="round" stroke-linecap="round"/><path d="M279.3,393.4L278.5,392.0L276.2,392.0L275.2,390.9L274.0,389.7L273.4,388.0L272.1,387.0" fill="none" stroke="#1c120b" stroke-width="1.20" stroke-linejoin="round" stroke-linecap="round"/><path d="M272.1,387.0L271.1,385.8L269.8,384.9L267.6,384.8L266.6,383.1L265.5,381.6L263.8,380.9" fill="none" stroke="#1c120b" stroke-width="1.09" stroke-linejoin="round" stroke-linecap="round"/><path d="M289.8,408.3L289.7,406.4L288.8,405.0L287.4,403.7L286.8,402.2L285.7,400.8L284.5,399.5L283.3,398.4L282.6,396.9L281.7,395.6L280.6,394.4L279.3,393.4L278.1,392.3" fill="none" stroke="#3a2615" stroke-width="0.69" stroke-dasharray="2.0 1.1 1.0 0.8"/><path d="M290.0,408.2L289.8,406.3L288.9,404.9L288.4,403.2L286.9,402.1L285.5,400.9L284.4,399.6L284.2,397.6L282.6,396.9L281.2,396.0L280.3,394.7L279.3,393.4L279.0,391.6L277.8,390.4L275.8,390.1L274.6,389.1L273.7,387.7L272.8,386.2L271.4,385.5" fill="none" stroke="#47301c" stroke-width="0.64" stroke-dasharray="3.4 0.6 1.4 0.5"/><path d="M289.3,408.6L287.5,407.7L286.7,406.2L285.8,404.7L285.4,403.0L284.3,401.7L283.6,400.1L283.3,398.4L281.9,397.5L281.1,396.1L279.3,395.6L278.5,394.2L277.1,393.2L276.8,391.4L275.3,390.8" fill="none" stroke="#1e130b" stroke-width="0.51" stroke-dasharray="3.0 1.0 1.0 0.7"/><path d="M279.3,393.4L279.7,391.1" stroke="#3a2615" stroke-width="0.76"/><path d="M272.1,387.0L270.0,387.7" stroke="#2b1c10" stroke-width="0.51"/><path d="M267.6,384.8L266.2,385.5" stroke="#15100c" stroke-width="0.73"/><path d="M272.1,387.0L272.5,385.0" stroke="#2b1c10" stroke-width="0.78"/><path d="M271.1,385.8L271.5,383.4" stroke="#2b1c10" stroke-width="0.49"/><path d="M278.5,392.0L279.6,389.1" stroke="#5a3d26" stroke-width="0.70"/><path d="M269.8,384.9L266.9,385.9" stroke="#5a3d26" stroke-width="0.48"/><path d="M283.3,398.4L283.6,395.1" stroke="#2b1c10" stroke-width="0.76"/><path d="M281.5,395.7L279.1,396.1" stroke="#47301c" stroke-width="0.60"/><path d="M279.3,393.4L280.3,391.3" stroke="#47301c" stroke-width="0.53"/><path d="M283.9,399.9L285.2,397.7" stroke="#3a2615" stroke-width="0.81"/><path d="M285.7,400.8L286.9,398.0" stroke="#5a3d26" stroke-width="0.82"/><path d="M276.2,392.0L274.4,392.6" stroke="#1e130b" stroke-width="0.60"/><path d="M269.8,384.9L270.1,383.0" stroke="#1e130b" stroke-width="0.46"/><path d="M279.3,393.4L280.3,390.7" stroke="#2b1c10" stroke-width="0.71"/><path d="M276.2,392.0L277.0,389.1" stroke="#2b1c10" stroke-width="0.76"/><path d="M266.6,383.1L264.7,384.0" stroke="#3a2615" stroke-width="0.48"/><path d="M274.0,389.7L273.9,387.9" stroke="#2b1c10" stroke-width="0.72"/><path d="M291.6,407.0L290.6,405.7L290.3,404.1L289.6,402.7L288.2,401.6" fill="none" stroke="#1c120b" stroke-width="0.90" stroke-linejoin="round" stroke-linecap="round"/><path d="M288.2,401.6L288.4,399.7L287.3,398.5L286.6,397.1L285.9,395.8L285.3,394.3" fill="none" stroke="#1c120b" stroke-width="0.90" stroke-linejoin="round" stroke-linecap="round"/><path d="M285.3,394.3L284.8,392.7L283.8,391.4L281.5,391.3L281.1,389.5L280.5,388.0" fill="none" stroke="#1c120b" stroke-width="0.90" stroke-linejoin="round" stroke-linecap="round"/><path d="M280.5,388.0L279.3,386.9L277.2,387.0L276.5,385.1L275.1,384.2L273.4,384.0" fill="none" stroke="#1c120b" stroke-width="0.90" stroke-linejoin="round" stroke-linecap="round"/><path d="M291.8,406.9L290.9,405.6L290.0,404.2L289.2,402.9L289.6,401.0L288.2,399.9L287.7,398.3L286.8,397.0L286.2,395.6L285.1,394.4L284.2,393.1L283.5,391.7L282.6,390.4" fill="none" stroke="#1e130b" stroke-width="0.85" stroke-dasharray="3.3 1.0 2.3 1.5"/><path d="M291.7,407.0L290.7,405.7L290.2,404.1L288.8,403.1L288.9,401.3L287.9,400.0L287.4,398.5L286.6,397.1L286.0,395.7L285.3,394.3L284.2,393.1L282.8,392.3L282.1,390.8L280.8,389.8L280.1,388.4L278.7,387.6L277.7,386.2" fill="none" stroke="#2b1c10" stroke-width="0.55" stroke-dasharray="2.8 0.5 2.1 0.7"/><path d="M281.1,389.5L281.9,388.2" stroke="#15100c" stroke-width="0.73"/><path d="M288.4,399.7L289.8,397.4" stroke="#47301c" stroke-width="0.60"/><path d="M288.4,399.7L286.2,399.0" stroke="#2b1c10" stroke-width="0.56"/><path d="M275.1,384.2L273.2,384.9" stroke="#47301c" stroke-width="0.52"/><path d="M289.6,402.7L290.6,400.5" stroke="#2b1c10" stroke-width="0.61"/><path d="M280.5,388.0L278.2,388.1" stroke="#15100c" stroke-width="0.56"/><path d="M288.4,399.7L289.8,397.5" stroke="#3a2615" stroke-width="0.80"/><path d="M280.5,388.0L278.5,388.4" stroke="#15100c" stroke-width="0.51"/><path d="M281.1,389.5L282.0,387.9" stroke="#15100c" stroke-width="0.55"/><path d="M290.3,404.1L288.0,404.0" stroke="#1e130b" stroke-width="0.45"/><path d="M295.7,407.6L295.9,406.0L296.0,404.3L297.9,403.3L298.8,401.9L298.1,400.0L297.9,398.2L299.1,396.9" fill="none" stroke="#1c120b" stroke-width="1.30" stroke-linejoin="round" stroke-linecap="round"/><path d="M299.1,396.9L300.0,395.6L300.9,394.3L301.2,392.5L302.8,391.7L304.1,390.7L304.0,388.7L304.8,387.3" fill="none" stroke="#1c120b" stroke-width="1.30" stroke-linejoin="round" stroke-linecap="round"/><path d="M304.8,387.3L305.9,386.1L306.7,384.8L308.7,384.2L309.2,382.6L310.7,381.7L310.0,379.3L312.4,379.0" fill="none" stroke="#1c120b" stroke-width="1.25" stroke-linejoin="round" stroke-linecap="round"/><path d="M312.4,379.0L313.5,377.8L313.7,376.0L314.8,374.8L315.1,373.0L315.6,371.5L317.5,371.0L317.6,369.0L319.3,368.4" fill="none" stroke="#1c120b" stroke-width="1.11" stroke-linejoin="round" stroke-linecap="round"/><path d="M295.9,407.7L295.3,405.8L296.4,404.5L297.7,403.2L297.3,401.4L297.8,399.8L299.5,398.8L299.3,397.0L299.5,395.3L300.8,394.2L301.9,393.0L303.0,391.9L303.9,390.5L305.0,389.4L305.3,387.6L306.7,386.7L307.0,385.0L308.6,384.1L309.1,382.5L309.3,380.7L310.4,379.5L311.5,378.4L312.9,377.4L313.6,375.9L314.2,374.4L315.9,373.7" fill="none" stroke="#2b1c10" stroke-width="0.52" stroke-dasharray="2.1 0.5 1.4 1.2"/><path d="M295.3,407.5L294.7,405.6L295.6,404.2L295.7,402.5L296.7,401.2L296.9,399.5L297.2,397.9L298.4,396.7L298.4,394.8L299.6,393.3L301.7,392.9L302.5,391.5L303.3,390.1L303.2,388.1L304.4,387.0L305.2,385.6L306.8,384.8L307.7,383.5L308.3,382.0L309.4,380.8L310.9,379.9L311.3,378.2L312.6,377.2L313.6,375.9" fill="none" stroke="#5a3d26" stroke-width="0.52" stroke-dasharray="3.5 0.5 1.9 0.8"/><path d="M295.7,407.6L296.4,406.1L297.4,404.8L297.4,403.1L298.9,401.9L299.4,400.4L298.4,398.4L300.0,397.2L300.5,395.8L300.9,394.3L301.9,393.0L303.3,392.1L303.7,390.4L304.5,389.0L305.6,387.9L305.9,386.1" fill="none" stroke="#2b1c10" stroke-width="0.57" stroke-dasharray="3.2 0.5 2.5 0.9"/><path d="M296.2,407.8L296.6,406.2L297.0,404.7L297.5,403.2L298.3,401.7L298.8,400.2L299.2,398.7L299.5,397.0L300.5,395.8L301.6,394.7L302.2,393.3L302.9,391.8L303.6,390.3L305.0,389.4L306.0,388.1L307.5,387.3L307.5,385.3L308.2,383.8L309.5,382.8L310.8,381.7L311.8,380.5" fill="none" stroke="#1e130b" stroke-width="0.67" stroke-dasharray="1.6 0.7 2.3 1.3"/><path d="M310.0,379.3L312.2,379.4" stroke="#47301c" stroke-width="0.48"/><path d="M312.4,379.0L311.4,376.3" stroke="#2b1c10" stroke-width="0.67"/><path d="M304.8,387.3L307.0,387.6" stroke="#5a3d26" stroke-width="0.83"/><path d="M313.5,377.8L312.3,375.9" stroke="#5a3d26" stroke-width="0.68"/><path d="M296.0,404.3L293.9,402.1" stroke="#15100c" stroke-width="0.59"/><path d="M299.1,396.9L297.1,393.7" stroke="#3a2615" stroke-width="0.80"/><path d="M315.1,373.0L316.7,373.4" stroke="#3a2615" stroke-width="0.78"/><path d="M304.8,387.3L307.5,386.8" stroke="#3a2615" stroke-width="0.66"/><path d="M304.8,387.3L303.5,385.3" stroke="#3a2615" stroke-width="0.83"/><path d="M297.9,403.3L300.8,403.1" stroke="#47301c" stroke-width="0.69"/><path d="M305.9,386.1L304.8,383.7" stroke="#5a3d26" stroke-width="0.83"/><path d="M301.2,392.5L299.8,389.8" stroke="#2b1c10" stroke-width="0.69"/><path d="M317.6,369.0L319.3,369.6" stroke="#15100c" stroke-width="0.49"/><path d="M313.5,377.8L312.4,375.4" stroke="#1e130b" stroke-width="0.60"/><path d="M314.8,374.8L317.7,374.5" stroke="#5a3d26" stroke-width="0.70"/><path d="M306.7,384.8L305.8,382.7" stroke="#5a3d26" stroke-width="0.71"/><path d="M296.0,404.3L294.1,401.6" stroke="#2b1c10" stroke-width="0.71"/><path d="M313.7,376.0L312.3,373.5" stroke="#47301c" stroke-width="0.77"/><path d="M299.1,396.9L297.4,394.5" stroke="#1e130b" stroke-width="0.75"/><path d="M297.9,403.3L296.1,400.7" stroke="#5a3d26" stroke-width="0.81"/><path d="M293.5,407.5L294.2,406.1L295.2,404.7" fill="none" stroke="#1c120b" stroke-width="0.80" stroke-linejoin="round" stroke-linecap="round"/><path d="M295.2,404.7L295.0,403.0L296.1,401.7L295.9,400.0" fill="none" stroke="#1c120b" stroke-width="0.80" stroke-linejoin="round" stroke-linecap="round"/><path d="M295.9,400.0L296.1,398.4L297.0,397.1" fill="none" stroke="#1c120b" stroke-width="0.80" stroke-linejoin="round" stroke-linecap="round"/><path d="M297.0,397.1L297.6,395.7L298.9,394.6L299.0,393.0" fill="none" stroke="#1c120b" stroke-width="0.80" stroke-linejoin="round" stroke-linecap="round"/><path d="M293.5,407.5L294.4,406.1L295.0,404.7L296.0,403.3L296.2,401.7L295.9,400.0L297.5,399.0L297.6,397.4L297.7,395.7L298.4,394.4" fill="none" stroke="#47301c" stroke-width="0.69" stroke-dasharray="2.5 0.6 2.1 0.7"/><path d="M296.1,401.7L297.8,401.6" stroke="#1e130b" stroke-width="0.77"/><path d="M298.9,394.6L298.0,393.6" stroke="#15100c" stroke-width="0.69"/><path d="M295.2,404.7L297.6,403.7" stroke="#1e130b" stroke-width="0.74"/><path d="M297.0,397.1L296.0,395.7" stroke="#47301c" stroke-width="0.57"/><path d="M298.9,394.6L297.8,393.4" stroke="#15100c" stroke-width="0.49"/><path d="M294.8,417.6L293.5,419.6L296.3,420.7L296.0,422.4L295.8,424.2L295.2,426.1L295.4,427.7L297.3,429.0" fill="none" stroke="#1c120b" stroke-width="1.30" stroke-linejoin="round" stroke-linecap="round"/><path d="M297.3,429.0L297.9,430.5L296.5,432.5L298.9,433.7L299.6,435.3L298.1,437.2L300.4,438.5L300.2,440.2" fill="none" stroke="#1c120b" stroke-width="1.30" stroke-linejoin="round" stroke-linecap="round"/><path d="M300.2,440.2L300.3,441.9L300.4,443.6L301.2,445.0L301.2,446.6L301.4,448.1L303.3,449.3L300.4,451.5" fill="none" stroke="#1c120b" stroke-width="1.30" stroke-linejoin="round" stroke-linecap="round"/><path d="M300.4,451.5L303.9,452.4L302.2,454.3L302.4,455.8L303.3,457.2L304.4,458.6L305.2,460.0L304.3,461.8L304.1,463.4" fill="none" stroke="#1c120b" stroke-width="1.30" stroke-linejoin="round" stroke-linecap="round"/><path d="M295.2,417.5L297.5,418.6L295.7,420.8L297.2,422.2L299.4,423.3L298.2,425.3L296.5,427.5L300.3,428.3L298.5,430.4L297.6,432.3L299.8,433.6L299.3,435.3L300.3,436.8L300.8,438.4L300.1,440.3L300.5,441.9L301.5,443.4" fill="none" stroke="#2b1c10" stroke-width="0.83" stroke-dasharray="2.3 0.6 1.2 0.4"/><path d="M294.1,417.8L295.2,419.2L292.8,421.5L296.0,422.4L294.2,424.6L295.0,426.1L294.1,428.1L295.6,429.3L298.1,430.5L295.3,432.7L296.3,434.2L297.2,435.7L299.3,437.0L297.5,439.1L298.8,440.5L298.4,442.3L298.0,444.0L298.5,445.5L301.0,446.6L299.6,448.5L300.8,449.8L300.4,451.5L301.6,452.8L301.8,454.4L302.1,455.9L303.0,457.3L303.0,458.9L302.7,460.5L304.0,461.8" fill="none" stroke="#47301c" stroke-width="0.62" stroke-dasharray="2.2 1.1 2.0 1.2"/><path d="M293.8,417.8L290.6,420.4L294.0,421.2L293.6,423.0L293.6,424.7L293.0,426.6L296.1,427.6L293.9,429.7L295.7,430.9L297.5,432.3L296.6,434.2L297.1,435.7L296.6,437.5L296.2,439.3L297.9,440.7L297.7,442.4L298.9,443.9L298.3,445.6L300.3,446.7L299.2,448.5L300.9,449.8L300.3,451.5L301.5,452.8L301.6,454.4L302.3,455.9L302.3,457.4L302.3,459.0L302.8,460.5L303.3,462.0" fill="none" stroke="#47301c" stroke-width="0.63" stroke-dasharray="2.4 1.0 1.1 1.2"/><path d="M294.7,417.6L294.9,419.3L293.5,421.4L294.5,422.8L296.2,424.1L297.3,425.5L295.0,427.8L297.0,429.0L296.1,430.9L297.4,432.3L297.2,434.0L297.7,435.6L296.8,437.5L297.4,439.1L299.0,440.5L299.3,442.1L300.3,443.6" fill="none" stroke="#5a3d26" stroke-width="0.74" stroke-dasharray="2.0 0.5 2.5 1.3"/><path d="M295.2,417.5L297.3,418.7L296.3,420.6L296.6,422.3L297.9,423.7L299.4,425.0L297.6,427.2L298.8,428.6L300.6,430.0L298.9,432.0L299.6,433.6L301.3,435.0L301.5,436.6L302.4,438.1L301.1,440.1L302.1,441.6L302.2,443.2L302.5,444.8L303.0,446.2L302.4,447.9L303.1,449.4L303.2,450.9L303.5,452.5L303.2,454.1L302.8,455.8L304.3,457.1L303.3,458.8" fill="none" stroke="#5a3d26" stroke-width="0.60" stroke-dasharray="1.8 1.0 2.0 1.0"/><path d="M295.1,417.5L298.6,418.4L297.2,420.4L299.7,421.5L299.2,423.4L299.8,424.9L298.8,426.9L298.4,428.7L300.2,430.1L300.2,431.8L301.1,433.3L301.7,434.9L299.7,437.0L302.4,438.1L300.3,440.2L301.3,441.7L303.1,443.1L301.1,445.0L303.3,446.2L302.4,447.9L303.6,449.3L301.9,451.2L303.6,452.4L302.7,454.2L304.4,455.4L303.5,457.2" fill="none" stroke="#47301c" stroke-width="0.71" stroke-dasharray="3.4 1.2 2.4 1.0"/><path d="M295.4,417.5L297.8,418.6L297.6,420.3L299.1,421.7L297.5,423.8L298.9,425.2L299.0,426.8L300.8,428.2L299.6,430.2L299.6,431.9L298.5,433.8L300.1,435.2L301.6,436.6L301.3,438.3L301.4,440.0L300.7,441.8L300.3,443.6L300.5,445.1L300.8,446.7L301.2,448.2L301.6,449.7L301.7,451.2L303.8,452.4L303.1,454.1" fill="none" stroke="#3a2615" stroke-width="0.88" stroke-dasharray="1.8 1.1 1.0 0.7"/><path d="M296.3,417.2L296.9,418.8L297.8,420.3L298.8,421.8L298.9,423.4L298.5,425.2L298.7,426.9L301.9,428.0L301.8,429.8L299.6,431.9L299.2,433.7L299.9,435.2L301.5,436.6L301.9,438.2L302.1,439.9L303.2,441.4L301.3,443.4L302.8,444.7L302.2,446.4L302.6,447.9L303.2,449.4" fill="none" stroke="#15100c" stroke-width="0.60" stroke-dasharray="1.9 0.9 1.8 1.1"/><path d="M294.5,417.7L293.9,419.5L294.1,421.2L294.4,422.8L293.3,424.8L294.0,426.4L294.1,428.1L295.5,429.4L297.4,430.6L295.4,432.7L297.5,434.0L298.0,435.6L297.7,437.3L296.4,439.3L298.5,440.5L298.9,442.2" fill="none" stroke="#2b1c10" stroke-width="0.56" stroke-dasharray="1.6 0.4 2.4 0.9"/><path d="M294.9,417.6L295.2,419.2L295.7,420.8L298.4,421.9L296.5,424.0L299.8,424.9L298.0,427.1L297.6,428.9L300.5,430.1L300.9,431.7L299.3,433.6L299.0,435.4L299.7,437.0L299.3,438.7L301.0,440.1L301.5,441.7L302.4,443.2L302.2,444.8L300.8,446.7L303.1,447.8L303.0,449.4L302.9,451.0L303.7,452.4L303.4,454.1" fill="none" stroke="#3a2615" stroke-width="0.89" stroke-dasharray="2.0 0.5 1.9 0.4"/><path d="M293.7,417.9L293.7,419.6L291.0,422.0L292.9,423.2L295.4,424.3L294.4,426.3L293.4,428.2L295.0,429.5L296.2,430.8L294.4,432.9L296.5,434.2L298.3,435.5L298.3,437.2L297.7,439.0L297.4,440.7L298.5,442.2L298.5,443.9L299.0,445.4" fill="none" stroke="#3a2615" stroke-width="0.78" stroke-dasharray="2.1 0.4 1.2 1.1"/><path d="M296.5,432.5L292.7,436.1" stroke="#15100c" stroke-width="0.62"/><path d="M301.2,446.6L298.7,449.1" stroke="#5a3d26" stroke-width="0.82"/><path d="M304.3,461.8L306.6,463.2" stroke="#2b1c10" stroke-width="0.82"/><path d="M299.6,435.3L304.2,437.8" stroke="#3a2615" stroke-width="0.56"/><path d="M295.8,424.2L301.4,426.1" stroke="#15100c" stroke-width="0.71"/><path d="M303.9,452.4L307.0,453.7" stroke="#5a3d26" stroke-width="0.68"/><path d="M296.3,420.7L302.2,421.1" stroke="#2b1c10" stroke-width="0.84"/><path d="M296.5,432.5L292.9,434.6" stroke="#15100c" stroke-width="0.78"/><path d="M304.4,458.6L306.8,459.6" stroke="#47301c" stroke-width="0.59"/><path d="M296.3,420.7L302.2,422.0" stroke="#5a3d26" stroke-width="0.65"/><path d="M299.6,435.3L304.4,437.1" stroke="#3a2615" stroke-width="0.84"/><path d="M295.2,426.1L301.2,429.1" stroke="#2b1c10" stroke-width="0.50"/><path d="M300.4,443.6L297.0,447.4" stroke="#15100c" stroke-width="0.71"/><path d="M300.4,443.6L297.2,445.6" stroke="#5a3d26" stroke-width="0.51"/><path d="M296.5,432.5L292.4,435.3" stroke="#5a3d26" stroke-width="0.76"/><path d="M296.5,432.5L301.7,434.4" stroke="#47301c" stroke-width="0.76"/><path d="M304.4,458.6L307.1,459.9" stroke="#47301c" stroke-width="0.54"/><path d="M302.2,454.3L300.4,456.2" stroke="#2b1c10" stroke-width="0.54"/><path d="M303.3,449.3L306.8,450.4" stroke="#3a2615" stroke-width="0.73"/><path d="M293.5,419.6L289.4,423.8" stroke="#1e130b" stroke-width="0.81"/><path d="M298.9,433.7L295.1,437.0" stroke="#3a2615" stroke-width="0.54"/><path d="M300.4,443.6L304.1,445.1" stroke="#47301c" stroke-width="0.75"/><path d="M301.2,445.0L305.0,446.2" stroke="#47301c" stroke-width="0.58"/><path d="M296.0,422.4L292.0,426.8" stroke="#5a3d26" stroke-width="0.66"/><path d="M297.3,429.0L293.4,434.6" stroke="#1e130b" stroke-width="0.50"/><path d="M300.2,440.2L297.0,443.6" stroke="#5a3d26" stroke-width="0.82"/><path d="M301.2,445.0L298.2,446.7" stroke="#1e130b" stroke-width="0.53"/><path d="M303.3,457.2L306.0,459.1" stroke="#5a3d26" stroke-width="0.68"/><path d="M299.6,435.3L295.9,439.5" stroke="#47301c" stroke-width="0.47"/><path d="M295.8,424.2L291.6,429.8" stroke="#15100c" stroke-width="0.48"/><path d="M296.5,432.5L292.6,435.0" stroke="#47301c" stroke-width="0.65"/><path d="M304.4,458.6L306.8,459.9" stroke="#15100c" stroke-width="0.61"/><path d="M296.0,422.4L301.7,424.1" stroke="#47301c" stroke-width="0.48"/><path d="M300.4,438.5L296.8,441.1" stroke="#5a3d26" stroke-width="0.64"/><path d="M301.4,448.1L298.5,450.6" stroke="#1e130b" stroke-width="0.54"/><path d="M304.3,461.8L302.6,463.1" stroke="#1e130b" stroke-width="0.77"/><circle cx="292.6" cy="412.9" r="5.0" fill="#fff" stroke="#666" stroke-width="0.7"/>
<g clip-path="url(#cb)">
<path d="M60.0,466.2L62.7,466.1L65.4,466.0L68.2,465.9L70.9,465.8L73.6,465.7L76.4,465.6L79.1,465.5L81.8,465.4L84.6,465.3L87.3,465.2M96.4,463.6L99.1,462.7L101.9,461.8L104.6,460.9L107.3,460.0L110.1,459.1L112.8,458.2L115.5,457.3L118.3,456.4L121.0,455.5L123.7,454.6M131.9,450.6L134.7,448.8L137.4,446.9L140.1,445.1L142.9,443.2L145.6,441.4L148.3,439.5L151.1,437.7L153.8,435.8L156.5,434.0L159.3,432.1L161.1,430.9M169.3,426.3L172.0,425.0L174.7,423.7L177.5,422.4L180.2,421.2L182.9,419.9L185.7,418.6L188.4,417.3L191.1,416.1L193.9,414.8L196.6,413.5M204.8,409.1L207.5,407.3L210.3,405.6L213.0,403.9L215.7,402.1L218.5,400.4L221.2,398.6L223.9,396.9L226.7,395.2L229.4,393.4L232.1,391.7L234.0,390.5M240.3,383.1L243.1,377.9L245.8,372.8L248.5,367.6L251.3,362.5L254.0,357.3L256.7,352.2L259.5,347.0L262.2,341.9L264.9,336.8L267.7,331.6L270.4,326.5L271.3,324.7M278.6,317.7L281.3,316.5L284.1,315.4L286.8,314.2L289.5,313.1L292.3,312.0L295.0,310.8L297.7,309.7L300.5,308.5L303.2,307.4L305.9,306.2" fill="none" stroke="#222" stroke-width="0.7"/>
<path d="M58.1,482.7L60.9,482.6L63.6,482.5L66.3,482.4L69.1,482.4L71.8,482.3L74.5,482.2L77.3,482.1L80.0,482.0L82.7,481.9L85.5,481.8L88.2,481.7L89.1,481.7M94.6,481.4L97.3,481.2L100.0,481.1L102.8,480.9L105.5,480.7L108.2,480.5L111.0,480.3L113.7,480.2L116.4,480.0L119.2,479.8L121.9,479.6L124.6,479.4L125.5,479.4M131.0,478.4L133.7,477.6L136.5,476.8L139.2,476.0L141.9,475.2L144.7,474.4L147.4,473.6L150.1,472.8L152.9,472.0L155.6,471.2L158.3,470.4L161.1,469.6L162.0,469.3M167.5,467.6L170.2,466.7L172.9,465.8L175.7,464.9L178.4,464.0L181.1,463.1L183.9,462.3L186.6,461.4L189.3,460.5L192.1,459.6L194.8,458.7L197.5,457.8L198.4,457.5M203.0,455.1L205.7,452.8L208.4,450.6L211.2,448.3L213.9,446.1L216.6,443.8L219.4,441.6L222.1,439.3L224.8,437.0L227.6,434.8L230.3,432.5L233.0,430.3L235.8,428.0M238.5,424.2L241.2,417.4L244.0,410.5L246.7,403.6L249.4,396.8L252.2,389.9L254.9,383.1L257.6,376.2L260.4,369.4L263.1,362.5L265.8,355.7L268.6,348.8L271.3,342.0L273.1,337.4M275.9,333.3L278.6,330.6L281.3,327.9L284.1,325.2L286.8,322.5L289.5,319.8L292.3,317.1L295.0,314.4L297.7,311.7L300.5,309.0L303.2,306.3L305.9,303.6L308.7,300.9" fill="none" stroke="#ff3030" stroke-width="0.75"/>
<path d="M59.0,476.1L61.8,476.0L64.5,475.9L67.2,475.7L70.0,475.6L72.7,475.5L75.4,475.4L78.2,475.3L80.9,475.2L83.6,475.1L86.4,475.0L88.2,474.9M95.5,474.5L98.2,474.3L101.0,474.1L103.7,473.9L106.4,473.7L109.1,473.5L111.9,473.3L114.6,473.1L117.3,472.9L120.1,472.7L122.8,472.5L124.6,472.4M131.9,471.1L134.7,470.3L137.4,469.5L140.1,468.7L142.9,467.9L145.6,467.2L148.3,466.4L151.1,465.6L153.8,464.8L156.5,464.0L159.3,463.3L161.1,462.7M168.4,460.3L171.1,459.2L173.8,458.2L176.6,457.1L179.3,456.1L182.0,455.1L184.8,454.0L187.5,452.9L190.2,451.9L193.0,450.8L195.7,449.8L197.5,449.1M204.8,444.8L207.5,442.6L210.3,440.4L213.0,438.1L215.7,435.9L218.5,433.7L221.2,431.5L223.9,429.3L226.7,427.1L229.4,424.9L232.1,422.7L234.0,421.2M239.4,413.5L242.2,406.2L244.9,399.0L247.6,391.8L250.4,384.6L253.1,377.3L255.8,370.1L258.6,362.9L261.3,355.6L264.0,348.4L266.8,341.2L269.5,333.9L272.2,326.7M276.8,319.4L279.5,316.9L282.2,314.4L285.0,311.9L287.7,309.4L290.4,307.0L293.2,304.5L295.9,302.0L298.6,299.5L301.4,297.0L304.1,294.5L306.8,292.0L307.7,291.2" fill="none" stroke="#4646ff" stroke-width="0.75"/>
<polygon points="55.40,463.35 51.90,469.25 58.90,469.25" fill="#000"/>
<polygon points="91.84,462.15 88.34,468.05 95.34,468.05" fill="#000"/>
<polygon points="128.28,450.15 124.78,456.05 131.78,456.05" fill="#000"/>
<polygon points="164.72,425.45 161.22,431.35 168.22,431.35" fill="#000"/>
<polygon points="201.16,408.45 197.66,414.35 204.66,414.35" fill="#000"/>
<polygon points="237.60,385.25 234.10,391.15 241.10,391.15" fill="#000"/>
<polygon points="274.04,316.65 270.54,322.55 277.54,322.55" fill="#000"/>
<polygon points="310.48,301.35 306.98,307.25 313.98,307.25" fill="#000"/>
<polygon points="55.40,479.50 56.18,481.73 58.54,481.78 56.66,483.21 57.34,485.47 55.40,484.12 53.46,485.47 54.14,483.21 52.26,481.78 54.62,481.73" fill="#f50f0f"/>
<polygon points="91.84,478.30 92.62,480.53 94.98,480.58 93.10,482.01 93.78,484.27 91.84,482.92 89.90,484.27 90.58,482.01 88.70,480.58 91.06,480.53" fill="#f50f0f"/>
<polygon points="128.28,475.90 129.06,478.13 131.42,478.18 129.54,479.61 130.22,481.87 128.28,480.52 126.34,481.87 127.02,479.61 125.14,478.18 127.50,478.13" fill="#f50f0f"/>
<polygon points="164.72,465.20 165.50,467.43 167.86,467.48 165.98,468.91 166.66,471.17 164.72,469.82 162.78,471.17 163.46,468.91 161.58,467.48 163.94,467.43" fill="#f50f0f"/>
<polygon points="201.16,453.30 201.94,455.53 204.30,455.58 202.42,457.01 203.10,459.27 201.16,457.92 199.22,459.27 199.90,457.01 198.02,455.58 200.38,455.53" fill="#f50f0f"/>
<polygon points="237.60,423.20 238.38,425.43 240.74,425.48 238.86,426.91 239.54,429.17 237.60,427.82 235.66,429.17 236.34,426.91 234.46,425.48 236.82,425.43" fill="#f50f0f"/>
<polygon points="274.04,331.80 274.82,334.03 277.18,334.08 275.30,335.51 275.98,337.77 274.04,336.42 272.10,337.77 272.78,335.51 270.90,334.08 273.26,334.03" fill="#f50f0f"/>
<polygon points="310.48,295.80 311.26,298.03 313.62,298.08 311.74,299.51 312.42,301.77 310.48,300.42 308.54,301.77 309.22,299.51 307.34,298.08 309.70,298.03" fill="#f50f0f"/>
<circle cx="55.40" cy="476.20" r="3.10" fill="url(#bg)"/>
<circle cx="91.84" cy="474.80" r="3.10" fill="url(#bg)"/>
<circle cx="128.28" cy="472.10" r="3.10" fill="url(#bg)"/>
<circle cx="164.72" cy="461.70" r="3.10" fill="url(#bg)"/>
<circle cx="201.16" cy="447.70" r="3.10" fill="url(#bg)"/>
<circle cx="237.60" cy="418.30" r="3.10" fill="url(#bg)"/>
<circle cx="274.04" cy="321.90" r="3.10" fill="url(#bg)"/>
<circle cx="310.48" cy="288.70" r="3.10" fill="url(#bg)"/>
</g>
<line x1="233.5" y1="388" x2="206" y2="386.8" stroke="#222" stroke-width="0.6"/><polygon points="203.5,386.7 209,385.2 209,388.4" fill="#111"/>
<line x1="287.7" y1="469.3" x2="279.5" y2="475" stroke="#222" stroke-width="0.6"/><polygon points="277.2,476.6 281.75,475.28 280.05,472.82" fill="#111"/>
<path d="M37.4,283.1 V483.0 H328.3 M37.4,283.6 H328.3" fill="none" stroke="#000" stroke-width="1"/>
<line x1="328.3" y1="283.1" x2="328.3" y2="483.5" stroke="#ff1a1a" stroke-width="1.1"/>
<line x1="364.0" y1="283.1" x2="364.0" y2="483.5" stroke="#2a2aff" stroke-width="1.1"/>
<text x="31.6" y="470.8" font-size="9" fill="#000" text-anchor="end" stroke="#000" stroke-width="0.22">0</text>
<text x="31.6" y="440.1" font-size="9" fill="#000" text-anchor="end" stroke="#000" stroke-width="0.22">20</text>
<text x="31.6" y="409.4" font-size="9" fill="#000" text-anchor="end" stroke="#000" stroke-width="0.22">40</text>
<text x="31.6" y="378.7" font-size="9" fill="#000" text-anchor="end" stroke="#000" stroke-width="0.22">60</text>
<text x="31.6" y="348.1" font-size="9" fill="#000" text-anchor="end" stroke="#000" stroke-width="0.22">80</text>
<text x="31.6" y="317.4" font-size="9" fill="#000" text-anchor="end" stroke="#000" stroke-width="0.22">100</text>
<text x="31.6" y="286.7" font-size="9" fill="#000" text-anchor="end" stroke="#000" stroke-width="0.22">120</text>
<path d="M37.4,483.1h2.2M37.4,467.8h4.2M37.4,452.5h2.2M37.4,437.1h4.2M37.4,421.8h2.2M37.4,406.4h4.2M37.4,391.1h2.2M37.4,375.8h4.2M37.4,360.4h2.2M37.4,345.1h4.2M37.4,329.7h2.2M37.4,314.4h4.2M37.4,299.1h2.2M37.4,283.7h4.2" stroke="#000" stroke-width="0.9" fill="none"/>
<text x="333.7" y="486.1" font-size="9.7" fill="#ff1a1a" text-anchor="start" stroke="#ff1a1a" stroke-width="0.32">0.0</text>
<text x="333.7" y="449.7" font-size="9.7" fill="#ff1a1a" text-anchor="start" stroke="#ff1a1a" stroke-width="0.32">0.1</text>
<text x="333.7" y="413.4" font-size="9.7" fill="#ff1a1a" text-anchor="start" stroke="#ff1a1a" stroke-width="0.32">0.2</text>
<text x="333.7" y="377.0" font-size="9.7" fill="#ff1a1a" text-anchor="start" stroke="#ff1a1a" stroke-width="0.32">0.3</text>
<text x="333.7" y="340.7" font-size="9.7" fill="#ff1a1a" text-anchor="start" stroke="#ff1a1a" stroke-width="0.32">0.4</text>
<text x="333.7" y="304.3" font-size="9.7" fill="#ff1a1a" text-anchor="start" stroke="#ff1a1a" stroke-width="0.32">0.5</text>
<path d="M328.3,483.0h-3.9M328.3,464.8h-2.2M328.3,446.6h-3.9M328.3,428.5h-2.2M328.3,410.3h-3.9M328.3,392.1h-2.2M328.3,373.9h-3.9M328.3,355.8h-2.2M328.3,337.6h-3.9M328.3,319.4h-2.2M328.3,301.2h-3.9" stroke="#ff1a1a" stroke-width="1" fill="none"/>
<text x="369.4" y="479.5" font-size="9.7" fill="#2a2aff" text-anchor="start" stroke="#2a2aff" stroke-width="0.32">0</text>
<text x="369.4" y="446.2" font-size="9.7" fill="#2a2aff" text-anchor="start" stroke="#2a2aff" stroke-width="0.32">500</text>
<text x="369.4" y="413.0" font-size="9.7" fill="#2a2aff" text-anchor="start" stroke="#2a2aff" stroke-width="0.32">1000</text>
<text x="369.4" y="379.7" font-size="9.7" fill="#2a2aff" text-anchor="start" stroke="#2a2aff" stroke-width="0.32">1500</text>
<text x="369.4" y="346.5" font-size="9.7" fill="#2a2aff" text-anchor="start" stroke="#2a2aff" stroke-width="0.32">2000</text>
<text x="369.4" y="313.3" font-size="9.7" fill="#2a2aff" text-anchor="start" stroke="#2a2aff" stroke-width="0.32">2500</text>
<path d="M364.0,476.4h-4.2M364.0,459.8h-2.4M364.0,443.2h-4.2M364.0,426.5h-2.4M364.0,409.9h-4.2M364.0,393.3h-2.4M364.0,376.7h-4.2M364.0,360.1h-2.4M364.0,343.4h-4.2M364.0,326.8h-2.4M364.0,310.2h-4.2M364.0,293.6h-2.4" stroke="#2a2aff" stroke-width="1" fill="none"/>
<text transform="translate(62.8,495.1) rotate(-45)" font-size="9.4" fill="#000" text-anchor="end" stroke="#000" stroke-width="0.22">1-1</text>
<text transform="translate(99.2,495.1) rotate(-45)" font-size="9.4" fill="#000" text-anchor="end" stroke="#000" stroke-width="0.22">2-1</text>
<text transform="translate(135.7,495.1) rotate(-45)" font-size="9.4" fill="#000" text-anchor="end" stroke="#000" stroke-width="0.22">3-1</text>
<text transform="translate(172.1,495.1) rotate(-45)" font-size="9.4" fill="#000" text-anchor="end" stroke="#000" stroke-width="0.22">4-1</text>
<text transform="translate(208.6,495.1) rotate(-45)" font-size="9.4" fill="#000" text-anchor="end" stroke="#000" stroke-width="0.22">5-1</text>
<text transform="translate(245.0,495.1) rotate(-45)" font-size="9.4" fill="#000" text-anchor="end" stroke="#000" stroke-width="0.22">6-1</text>
<text transform="translate(281.4,495.1) rotate(-45)" font-size="9.4" fill="#000" text-anchor="end" stroke="#000" stroke-width="0.22">7-1</text>
<text transform="translate(317.9,495.1) rotate(-45)" font-size="9.4" fill="#000" text-anchor="end" stroke="#000" stroke-width="0.22">7-10</text>
<path d="M55.4,483.0v-4.2M73.6,483.0v-2.2M91.8,483.0v-4.2M110.1,483.0v-2.2M128.3,483.0v-4.2M146.5,483.0v-2.2M164.7,483.0v-4.2M182.9,483.0v-2.2M201.2,483.0v-4.2M219.4,483.0v-2.2M237.6,483.0v-4.2M255.8,483.0v-2.2M274.0,483.0v-4.2M292.3,483.0v-2.2M310.5,483.0v-4.2" stroke="#000" stroke-width="0.9" fill="none"/>
<path d="M46.3,321.7H52.6M60.2,321.7H66.8" stroke="#333" stroke-width="0.6" opacity="0.75"/>
<polygon points="56.40,318.75 52.90,324.65 59.90,324.65" fill="#000"/>
<text x="70.0" y="324.9" font-size="9.6" fill="#000" text-anchor="start" stroke="#000" stroke-width="0.22">Crack length</text>
<path d="M46.3,334.4H52.6M60.2,334.4H66.8" stroke="#ff3030" stroke-width="0.6" opacity="0.75"/>
<polygon points="56.40,331.10 57.18,333.33 59.54,333.38 57.66,334.81 58.34,337.07 56.40,335.72 54.46,337.07 55.14,334.81 53.26,333.38 55.62,333.33" fill="#f50f0f"/>
<text x="70.0" y="337.6" font-size="9.6" fill="#000" text-anchor="start" stroke="#000" stroke-width="0.22">Damage area</text>
<path d="M46.3,347.0H52.6M60.2,347.0H66.8" stroke="#4a4aff" stroke-width="0.6" opacity="0.75"/>
<circle cx="56.40" cy="347.00" r="3.10" fill="url(#bg)"/>
<text x="70.0" y="350.2" font-size="9.6" fill="#000" text-anchor="start" stroke="#000" stroke-width="0.22">AE Counts</text>
<text x="55.5" y="380.0" font-size="9.6" fill="#000" text-anchor="start" stroke="#000" stroke-width="0.22">Initiation stage</text>
<text x="149.6" y="320.8" font-size="9.5" fill="#000" text-anchor="start" stroke="#000" stroke-width="0.22">Fracture smooth</text>
<text x="152.1" y="333.3" font-size="9.5" fill="#000" text-anchor="start" stroke="#000" stroke-width="0.22">expansion stage</text>
<text x="244.4" y="298.8" font-size="9.6" fill="#000" text-anchor="start" stroke="#000" stroke-width="0.22">Breakdown</text>
<text x="246.7" y="310.6" font-size="9.6" fill="#000" text-anchor="start" stroke="#000" stroke-width="0.22">stage</text>
<text transform="translate(14.0,381.4) rotate(-90)" font-size="12.1" fill="#000" text-anchor="middle" stroke="#000" stroke-width="0.22">Crack length(cm)</text>
<text transform="translate(353.3,382.3) rotate(-90)" font-size="12.2" fill="#ff1a1a" text-anchor="middle" stroke="#ff1a1a" stroke-width="0.32">Damage area(m<tspan font-size="7.9" dy="-4.5">2</tspan><tspan dy="4.5">)</tspan></text>
<text transform="translate(399.8,382.6) rotate(-90)" font-size="12.0" fill="#2a2aff" text-anchor="middle" stroke="#2a2aff" stroke-width="0.32">AE Counts</text>
<text x="183.2" y="518.6" font-size="11.6" fill="#000" text-anchor="middle" stroke="#000" stroke-width="0.22">Calculation steps</text>
<text x="203.0" y="543.4" font-size="10.5" fill="#000" text-anchor="middle" font-weight="bold" stroke="#000" stroke-width="0.22">(b)</text>
</svg>
</body></html>
